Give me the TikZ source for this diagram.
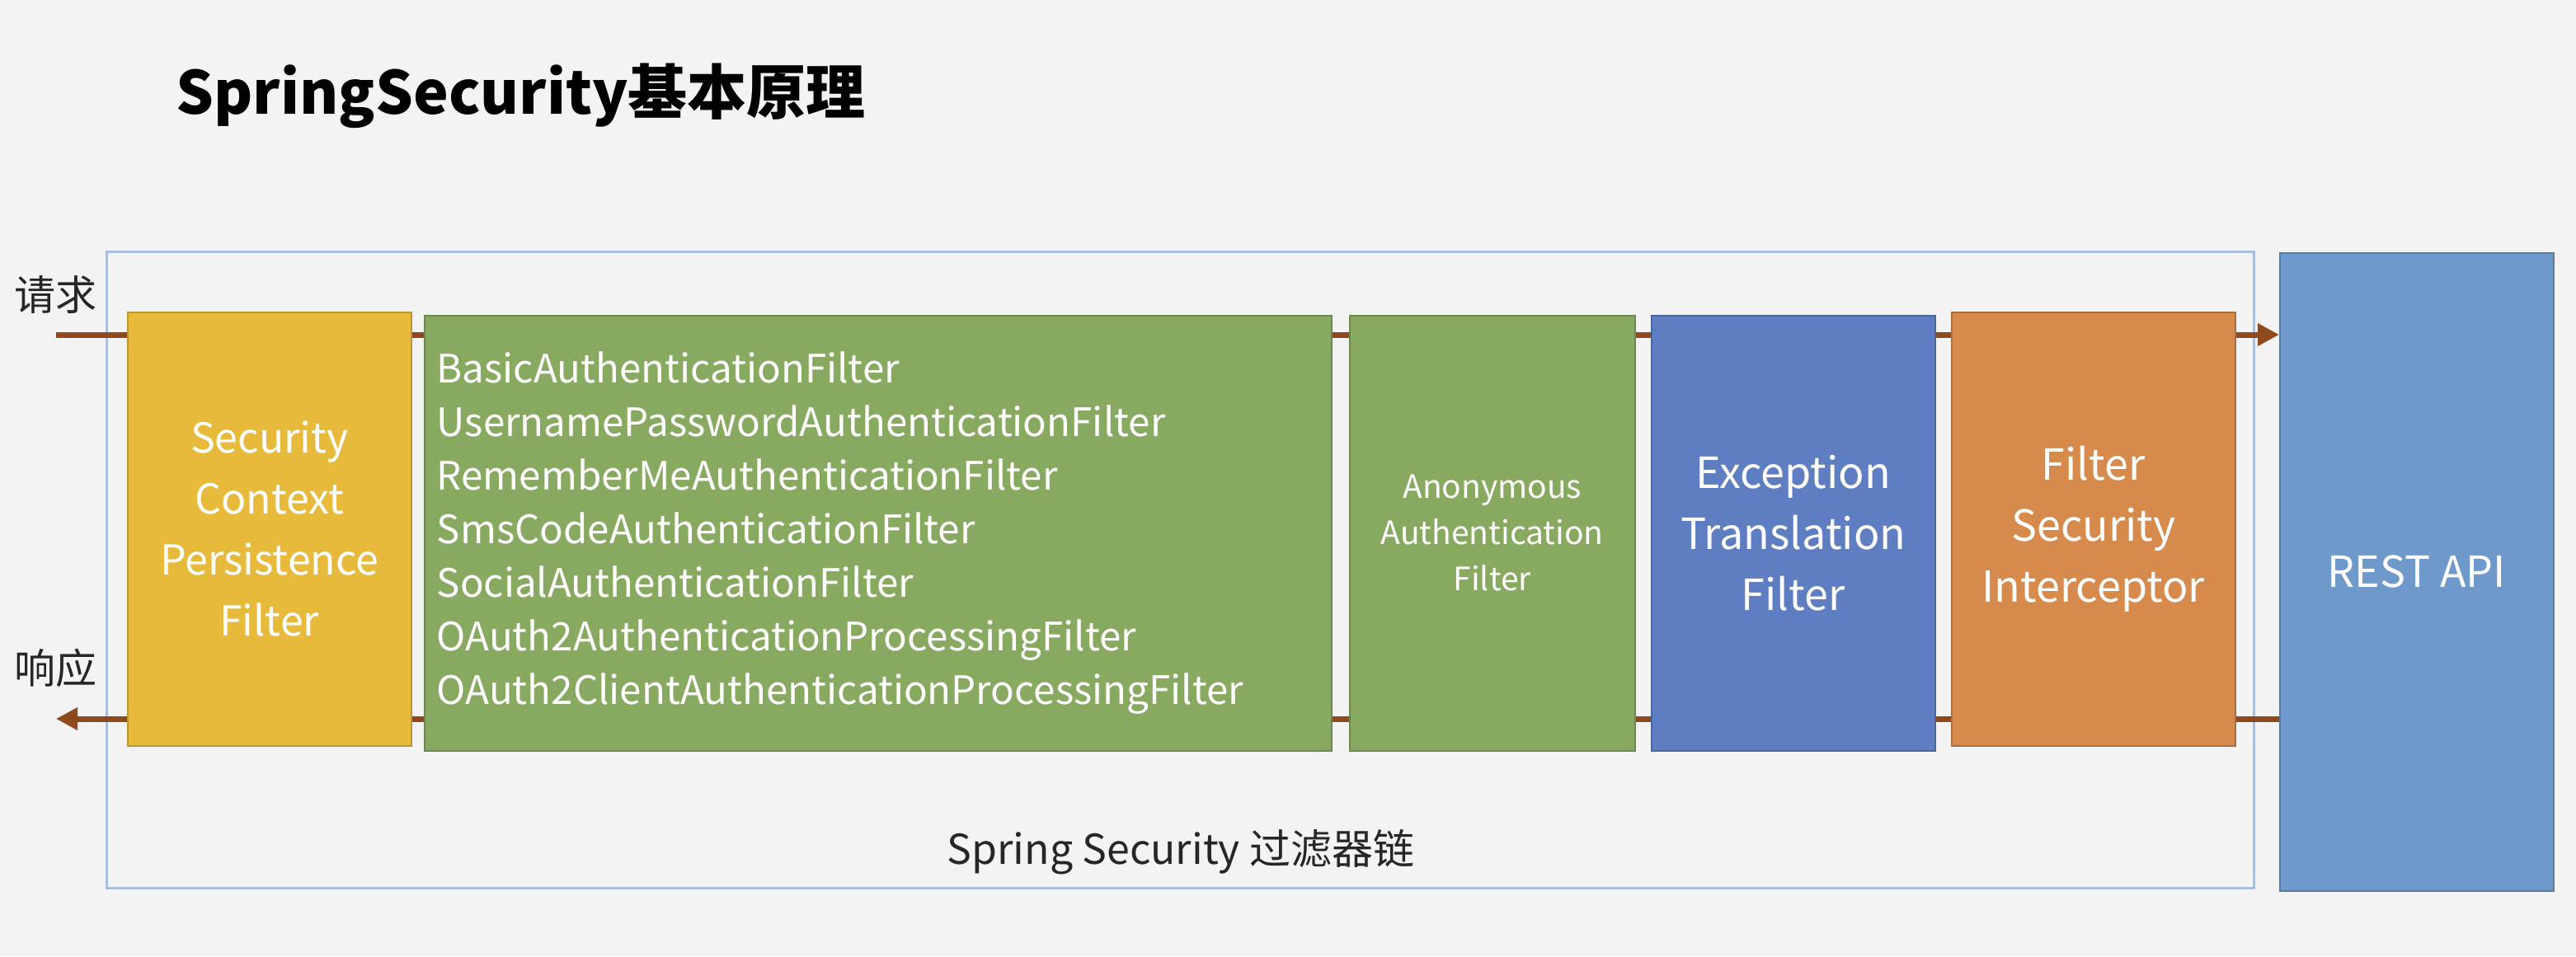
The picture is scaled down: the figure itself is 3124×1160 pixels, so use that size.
\documentclass[tikz,border=0pt]{standalone}
\usepackage{fontspec}
\setmainfont{Noto Sans CJK SC}
\usetikzlibrary{arrows.meta}
\definecolor{bg}{HTML}{F3F3F3}
\definecolor{arr}{HTML}{8E4A1C}
\definecolor{ylw}{HTML}{E8BA3C}
\definecolor{grn}{HTML}{87A960}
\definecolor{blu}{HTML}{5F7EC2}
\definecolor{org}{HTML}{D68A4B}
\definecolor{rest}{HTML}{7099CB}
\definecolor{frame}{HTML}{A9BEDC}
\tikzset{
  filt/.style={anchor=north west, inner sep=0pt, text=white, align=center, draw=#1!80!black, line width=1.5pt, fill=#1},
  lbl/.style={font=\fontsize{50}{60}\selectfont, text=black!85},
  flow/.style={draw=arr, line width=7pt, -{Triangle[length=26pt,width=26pt]}}
}
\begin{document}
\begin{tikzpicture}[x=1pt,y=-1pt]
\fill[bg] (0,0) rectangle (3124,1160);
\useasboundingbox (0,0) rectangle (3124,1160);
\node[anchor=west, font=\fontsize{72}{84}\selectfont\bfseries] (title) at (210,116) {SpringSecurity基本原理};
\node[draw=frame, line width=2.5pt, minimum width=2604pt, minimum height=772pt, anchor=north west, inner sep=0pt] (chain) at (128,304) {};
\node[filt=rest, minimum width=332pt, minimum height=774pt, font=\fontsize{52}{62}\selectfont] (rest) at (2764,306) {REST API};
\coordinate (reqL) at (68,406);
\coordinate (resL) at (68,872);
\draw[flow] (reqL) -- (rest.west |- reqL);
\draw[flow] (rest.west |- resL) -- (resL);
\node[lbl, anchor=west] (req) at (14,358) {请求};
\node[lbl, anchor=west] (res) at (14,810) {响应};
\node[filt=ylw, minimum width=344pt, minimum height=526pt, text width=344pt, font=\fontsize{50}{74}\selectfont] (scp) at (154,378) {Security\\Context\\Persistence\\Filter};
\node[filt=grn, minimum width=1100pt, minimum height=528pt, text width=1070pt, align=left, font=\fontsize{47.5}{65}\selectfont] (auth) at (514,382) {BasicAuthenticationFilter\\UsernamePasswordAuthenticationFilter\\RememberMeAuthenticationFilter\\SmsCodeAuthenticationFilter\\SocialAuthenticationFilter\\OAuth2AuthenticationProcessingFilter\\OAuth2ClientAuthenticationProcessingFilter};
\node[filt=grn, minimum width=346pt, minimum height=528pt, text width=346pt, font=\fontsize{39}{56}\selectfont] (anon) at (1636,382) {Anonymous\\Authentication\\Filter};
\node[filt=blu, minimum width=344pt, minimum height=528pt, text width=344pt, font=\fontsize{52}{74}\selectfont] (exc) at (2002,382) {Exception\\Translation\\Filter};
\node[filt=org, minimum width=344pt, minimum height=526pt, text width=344pt, font=\fontsize{52}{74}\selectfont] (fsi) at (2366,378) {Filter\\Security\\Interceptor};
\node[lbl] (chainlbl) at (1432,1034) {Spring Security 过滤器链};
\end{tikzpicture}
\end{document}
